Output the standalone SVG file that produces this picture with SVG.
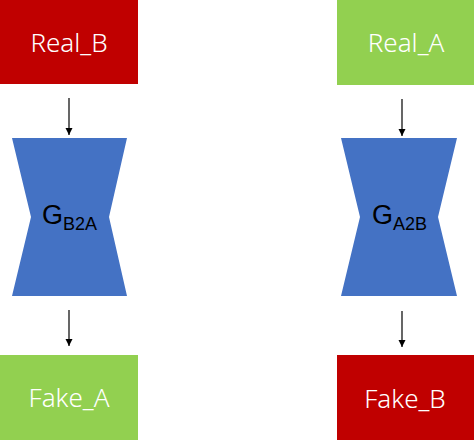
<svg xmlns="http://www.w3.org/2000/svg" width="474" height="440" viewBox="0 0 474 440">
<defs>
<style>
.red{fill:#C00000}
.green{fill:#92D050}
.gen{fill:#4472C4}
.lbl{fill:#ffffff;font-family:"Noto Sans","Liberation Sans",sans-serif;font-size:26px;font-weight:300;text-anchor:middle}
.g{fill:#000000;font-family:"Liberation Sans",Arial,sans-serif;font-size:27px}
.sub{font-size:18px}
.conn{stroke:#000000;stroke-width:1.2;fill:none;marker-end:url(#arr)}
</style>
<marker id="arr" viewBox="0 0 10 10" refX="10" refY="5" markerWidth="7" markerHeight="8" markerUnits="userSpaceOnUse" orient="auto">
<path d="M0,0 L10,5 L0,10 Z" fill="#000000"/>
</marker>
</defs>
<rect width="474" height="440" fill="#ffffff"/>
<g id="real_b"><rect class="red" x="0" y="0" width="138" height="84"/><text class="lbl" x="69" y="52">Real_B</text></g>
<g id="g_b2a"><polygon class="gen" points="12,138 127,138 109,217 127,296 12,296 31,217"/><text class="g" x="42" y="224">G<tspan class="sub" dy="6">B2A</tspan></text></g>
<g id="fake_a"><rect class="green" x="0" y="355" width="138" height="85"/><text class="lbl" x="69" y="407">Fake_A</text></g>
<g id="real_a"><rect class="green" x="337" y="0" width="137" height="85"/><text class="lbl" x="406" y="52">Real_A</text></g>
<g id="g_a2b"><polygon class="gen" points="341,138 457,138 438,217 457,296 341,296 360,217"/><text class="g" x="372" y="224">G<tspan class="sub" dy="6">A2B</tspan></text></g>
<g id="fake_b"><rect class="red" x="337" y="355" width="137" height="85"/><text class="lbl" x="405" y="408">Fake_B</text></g>
<g id="connectors">
<line class="conn" x1="69" y1="98" x2="69" y2="135"/>
<line class="conn" x1="69" y1="310" x2="69" y2="346"/>
<line class="conn" x1="402" y1="99" x2="402" y2="136"/>
<line class="conn" x1="402" y1="311" x2="402" y2="347"/>
</g>
</svg>
